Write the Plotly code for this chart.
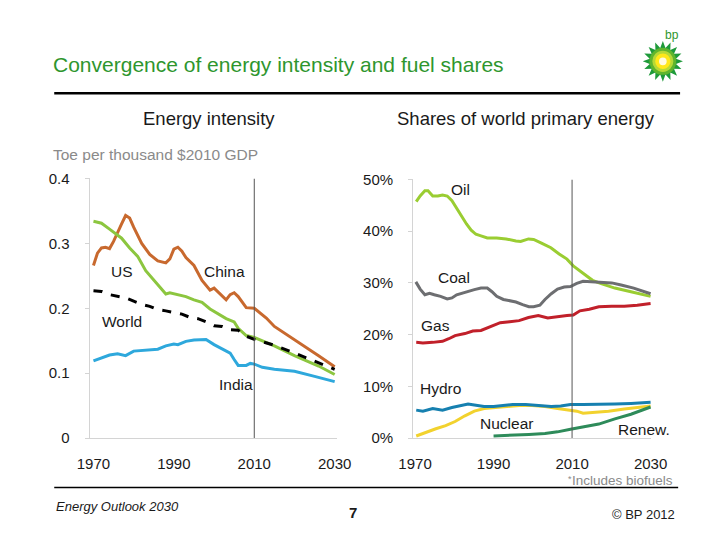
import math
import plotly.graph_objects as go

# ---------------- data: energy intensity (toe per thousand $2010 GDP) ----------------
china_years = [1970, 1971, 1972, 1973, 1974, 1975, 1977, 1978, 1979, 1980, 1982, 1984, 1986, 1988, 1989,
               1990, 1991, 1992, 1993, 1995, 1997, 1999, 2000, 2001, 2002, 2003, 2004, 2005, 2006, 2007,
               2008, 2010, 2011, 2013, 2015, 2018, 2022, 2026, 2030]
china_vals = [0.266, 0.285, 0.293, 0.294, 0.292, 0.303, 0.330, 0.343, 0.339, 0.325, 0.300, 0.283, 0.273, 0.270, 0.276,
              0.291, 0.294, 0.288, 0.278, 0.266, 0.243, 0.228, 0.231, 0.225, 0.218, 0.213, 0.221, 0.224, 0.218, 0.209,
              0.201, 0.200, 0.195, 0.185, 0.172, 0.160, 0.143, 0.127, 0.110]

us_years = [1970, 1972, 1974, 1976, 1977, 1979, 1981, 1983, 1985, 1987, 1988, 1989, 1991, 1993, 1995, 1997,
            1999, 2001, 2003, 2005, 2006, 2008, 2010, 2015, 2020, 2026, 2030]
us_vals = [0.334, 0.331, 0.322, 0.313, 0.308, 0.293, 0.280, 0.258, 0.243, 0.228, 0.222, 0.224, 0.221, 0.218, 0.213,
           0.209, 0.199, 0.191, 0.184, 0.179, 0.169, 0.158, 0.155, 0.142, 0.127, 0.111, 0.098]

world_years = [1970, 1972, 1974, 1976, 1978, 1980, 1982, 1984, 1986, 1988, 1990, 1992, 1994, 1996, 1998, 2000,
               2002, 2004, 2006, 2008, 2010, 2015, 2020, 2025, 2030]
world_vals = [0.227, 0.226, 0.221, 0.219, 0.216, 0.211, 0.206, 0.203, 0.198, 0.196, 0.194, 0.191, 0.186, 0.184,
              0.179, 0.173, 0.172, 0.167, 0.166, 0.157, 0.152, 0.143, 0.131, 0.119, 0.106]

india_years = [1970, 1972, 1974, 1976, 1978, 1980, 1982, 1984, 1986, 1988, 1990, 1991, 1993, 1995, 1997, 1998,
               2000, 2002, 2004, 2005, 2006, 2008, 2009, 2010, 2012, 2015, 2020, 2025, 2030]
india_vals = [0.119, 0.124, 0.128, 0.130, 0.127, 0.134, 0.135, 0.136, 0.137, 0.142, 0.145, 0.144, 0.149, 0.151,
              0.151, 0.152, 0.144, 0.137, 0.131, 0.121, 0.112, 0.112, 0.115, 0.114, 0.109, 0.106, 0.103, 0.095, 0.087]

# ---------------- data: shares of world primary energy (%) ----------------
oil_years = [1970.3, 1971.3, 1972.5, 1973.3, 1974.5, 1975.8, 1977, 1978.2, 1979.4, 1980.2, 1981.5, 1983.1, 1984.3,
             1985.5, 1986.8, 1988.4, 1990.8, 1993.2, 1995.7, 1996.9, 1998.9, 2000.2, 2002.2, 2004.6, 2006.7,
             2008.7, 2010.3, 2012.8, 2015.2, 2017.6, 2020.9, 2025, 2030]
oil_vals = [45.7, 46.8, 47.8, 47.8, 46.8, 46.8, 47.0, 46.8, 45.9, 44.9, 43.3, 41.4, 40.2, 39.4, 39.1, 38.7, 38.7,
            38.5, 38.1, 38.0, 38.5, 38.4, 37.7, 36.8, 35.6, 34.6, 33.3, 31.8, 30.5, 29.8, 29.0, 28.3, 27.4]

coal_years = [1970.2, 1971.3, 1972.5, 1973.7, 1974.9, 1976.5, 1978.2, 1979.4, 1980.6, 1981.8, 1983, 1985.1, 1986.8,
              1988.4, 1989.6, 1990.8, 1992.5, 1994.1, 1995.7, 1997.4, 1999, 2000.2, 2001.8, 2003.1, 2004.7,
              2006.3, 2008, 2009.6, 2011.2, 2012.8, 2015.2, 2017.6, 2020.1, 2022.5, 2025.7, 2030]
coal_vals = [30.2, 28.8, 27.7, 28.0, 27.7, 27.4, 26.9, 27.1, 27.7, 28.0, 28.3, 28.7, 29.0, 29.0, 28.3, 27.4, 26.8,
             26.5, 26.3, 25.8, 25.4, 25.4, 25.7, 26.8, 27.9, 28.8, 29.2, 29.3, 29.9, 30.3, 30.2, 30.0, 30.0, 29.6,
             29.0, 27.9]

gas_years = [1970.3, 1972, 1974.5, 1977, 1978.6, 1980.2, 1982.7, 1984.7, 1986.8, 1989.2, 1991.7, 1994.1, 1996.5,
             1998.9, 2001.4, 2003.8, 2006.3, 2008.7, 2010.3, 2012, 2014.4, 2016.8, 2020.1, 2023.3, 2026.6, 2030]
gas_vals = [18.5, 18.4, 18.5, 18.7, 19.2, 19.8, 20.2, 20.7, 20.8, 21.5, 22.3, 22.5, 22.7, 23.3, 23.7, 23.2, 23.5,
            23.7, 23.8, 24.6, 24.9, 25.4, 25.5, 25.5, 25.7, 26.0]

hydro_years = [1970.3, 1972, 1974.5, 1977, 1979.4, 1981.8, 1983.5, 1985.1, 1987.6, 1990, 1992.5, 1994.9, 1998.2,
               2001.4, 2004.7, 2007.1, 2009.6, 2012.8, 2016.8, 2020.9, 2025, 2030]
hydro_vals = [5.4, 5.2, 5.7, 5.4, 5.9, 6.3, 6.6, 6.4, 6.1, 6.1, 6.3, 6.5, 6.5, 6.3, 6.1, 6.2, 6.5, 6.5, 6.5, 6.6,
              6.7, 6.9]

nuclear_years = [1970.3, 1972.9, 1975.3, 1977.8, 1980.2, 1982.7, 1985.1, 1987.6, 1990, 1993.2, 1996.5, 1999.8,
                 2003.1, 2006.3, 2009.6, 2011.2, 2012.8, 2015.2, 2019.3, 2023.3, 2027.4, 2030]
nuclear_vals = [0.4, 1.2, 1.8, 2.4, 3.2, 4.3, 5.2, 5.7, 5.9, 6.1, 6.3, 6.3, 6.1, 5.7, 5.4, 5.2, 4.8, 4.9, 5.2, 5.6,
                5.9, 6.2]

renew_years = [1990, 1994.1, 1999, 2003.1, 2006.3, 2009.6, 2012.8, 2016.8, 2020.9, 2025, 2030]
renew_vals = [0.4, 0.5, 0.7, 0.9, 1.2, 1.7, 2.1, 2.7, 3.7, 4.6, 6.0]

x_ticks = [1970, 1990, 2010, 2030]
left_y_ticks = [0, 0.1, 0.2, 0.3, 0.4]
left_y_labels = ["0", "0.1", "0.2", "0.3", "0.4"]
right_y_ticks = [0, 10, 20, 30, 40, 50]
right_y_labels = ["0%", "10%", "20%", "30%", "40%", "50%"]
divider_year = 2010

# ---------------- styling ----------------
W, H = 720, 540
FONT = "Liberation Sans, Arial, sans-serif"
TXT = "#1a1a1a"
AXC = "#d4d4d4"


def px(x):
    return x / W


def py(y):
    return 1 - y / H


fig = go.Figure()

left_series = [
    (china_years, china_vals, "#c8692e", "solid"),
    (us_years, us_vals, "#8cc63f", "solid"),
    (world_years, world_vals, "#000000", "dash"),
    (india_years, india_vals, "#2ea8dc", "solid"),
]
for xs, ys, col, dash in left_series:
    fig.add_trace(go.Scatter(x=xs, y=ys, mode="lines", xaxis="x", yaxis="y",
                             line=dict(color=col, width=3, dash=dash), hoverinfo="skip",
                             showlegend=False))

right_series = [
    (oil_years, oil_vals, "#9acd32"),
    (coal_years, coal_vals, "#6d6e71"),
    (gas_years, gas_vals, "#c1202a"),
    (nuclear_years, nuclear_vals, "#f2d22e"),
    (hydro_years, hydro_vals, "#1680b0"),
    (renew_years, renew_vals, "#2e8b5a"),
]
for xs, ys, col in right_series:
    fig.add_trace(go.Scatter(x=xs, y=ys, mode="lines", xaxis="x2", yaxis="y2",
                             line=dict(color=col, width=3), hoverinfo="skip", showlegend=False))

tickfont = dict(family=FONT, size=15, color=TXT)
common_x = dict(showgrid=False, zeroline=False, showline=True, linecolor=AXC, linewidth=1,
                tickvals=x_ticks, ticktext=[str(t) for t in x_ticks], tickfont=tickfont,
                ticks="", ticklabelstandoff=12, fixedrange=True)
common_y = dict(showgrid=False, zeroline=False, showline=True, linecolor=AXC, linewidth=1,
                tickfont=tickfont, ticks="outside", ticklen=4, tickcolor=AXC,
                ticklabelstandoff=12, fixedrange=True)

fig.update_layout(
    width=W, height=H,
    margin=dict(l=0, r=0, t=0, b=0),
    paper_bgcolor="white", plot_bgcolor="white",
    xaxis=dict(domain=[px(78), px(337)], range=[1969.05, 2030.7], anchor="y", **common_x),
    yaxis=dict(domain=[py(443), py(175)], range=[0, 0.4], anchor="x",
               tickvals=left_y_ticks, ticktext=left_y_labels, **common_y),
    xaxis2=dict(domain=[px(416), px(665)], range=[1969.5, 2030.2], anchor="y2", **common_x),
    yaxis2=dict(domain=[py(443), py(176)], range=[0, 50], anchor="x2",
                tickvals=right_y_ticks, ticktext=right_y_labels, **common_y),
)

shapes = []
# 2010 dividers
shapes.append(dict(type="line", xref="x", yref="y", x0=divider_year, x1=divider_year, y0=0, y1=0.4,
                   line=dict(color="#555555", width=1)))
shapes.append(dict(type="line", xref="x2", yref="y2", x0=divider_year, x1=divider_year, y0=0, y1=50,
                   line=dict(color="#555555", width=1)))
# horizontal rules
shapes.append(dict(type="line", xref="paper", yref="paper", x0=px(41), x1=px(695), y0=py(87), y1=py(87),
                   line=dict(color="#000000", width=2.5)))
shapes.append(dict(type="line", xref="paper", yref="paper", x0=px(41), x1=px(693), y0=py(494), y1=py(494),
                   line=dict(color="#000000", width=1.5)))

# bp helios logo (decorative)
cx, cy = 677, 54
n = 16
pts = []
for i in range(2 * n):
    r = 21 if i % 2 == 0 else 14
    a = math.pi * i / n
    pts.append((cx + r * math.cos(a), cy + r * math.sin(a)))
path = "M " + " L ".join(f"{px(x):.5f},{py(y):.5f}" for x, y in pts) + " Z"
shapes.append(dict(type="path", xref="paper", yref="paper", path=path,
                   fillcolor="#1e9a3a", line=dict(width=0)))
for r, col in [(14, "#5fb52e"), (11, "#b7d936"), (8, "#ffe81a"), (4, "#fffbe0")]:
    shapes.append(dict(type="circle", xref="paper", yref="paper",
                       x0=px(cx - r), x1=px(cx + r), y0=py(cy + r), y1=py(cy - r),
                       fillcolor=col, line=dict(width=0)))
fig.update_layout(shapes=shapes)

ann = []


def text(x, y, s, size, color=TXT, xanchor="left", italic=False, bold=False, ref="paper",
         xr=None, yr=None):
    st = "italic" if italic else "normal"
    wt = "bold" if bold else "normal"
    d = dict(text=s, showarrow=False, xanchor=xanchor, yanchor="middle",
             font=dict(family=FONT, size=size, color=color, style=st, weight=wt))
    if ref == "paper":
        d.update(xref="paper", yref="paper", x=px(x), y=py(y))
    else:
        d.update(xref=xr, yref=yr, x=x, y=y)
    ann.append(d)


text(38, 57, "Convergence of energy intensity and fuel shares", 21, color="#2e962e")
text(687, 27, "bp", 12, color="#2e962e", xanchor="center")
text(203, 113, "Energy intensity", 18.5, xanchor="center")
text(534, 113, "Shares of world primary energy", 18.5, xanchor="center")
text(38, 150, "Toe per thousand $2010 GDP", 15.5, color="#8a8a8a")

# series labels (data coordinates)
text(1977, 0.256, "US", 15.5, ref="data", xr="x", yr="y", xanchor="center")
text(2002.5, 0.256, "China", 15.5, ref="data", xr="x", yr="y", xanchor="center")
text(1977, 0.18, "World", 15.5, ref="data", xr="x", yr="y", xanchor="center")
text(2005.5, 0.082, "India", 15.5, ref="data", xr="x", yr="y", xanchor="center")

text(1981.5, 48.0, "Oil", 15.5, ref="data", xr="x2", yr="y2", xanchor="center")
text(1979.8, 31.0, "Coal", 15.5, ref="data", xr="x2", yr="y2", xanchor="center")
text(1975.3, 21.7, "Gas", 15.5, ref="data", xr="x2", yr="y2", xanchor="center")
text(1976.5, 9.5, "Hydro", 15.5, ref="data", xr="x2", yr="y2", xanchor="center")
text(1993.2, 2.8, "Nuclear", 15.5, ref="data", xr="x2", yr="y2", xanchor="center")
text(2028.3, 1.7, "Renew.", 15.5, ref="data", xr="x2", yr="y2", xanchor="center")
text(2032.3, 3.6, "*", 9, color="#8a8a8a", ref="data", xr="x2", yr="y2", xanchor="center")

text(690, 487, "Includes biofuels", 13.5, color="#8a8a8a", xanchor="right")
text(580, 485, "*", 9, color="#8a8a8a", xanchor="center")
text(41, 514, "Energy Outlook 2030", 13, color="#1a1a1a", italic=True)
text(353, 520, "7", 15, bold=True, xanchor="center")
text(692, 522, "© BP 2012", 13, xanchor="right")

fig.update_layout(annotations=ann)

fig.write_html("out.html",
               post_script="document.body.style.margin='0';document.body.style.overflow='hidden';")
